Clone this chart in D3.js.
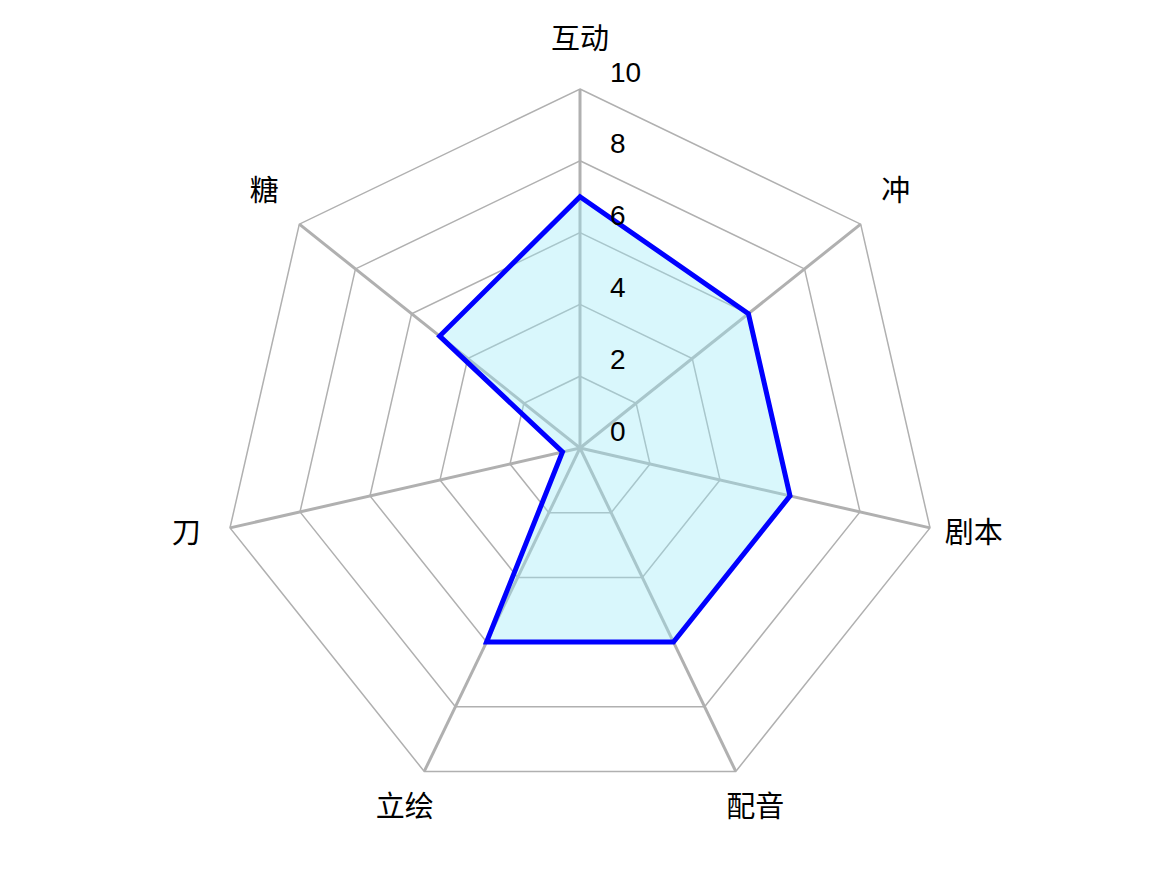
<!DOCTYPE html>
<html>
<head>
<meta charset="utf-8">
<script src="https://cdn.jsdelivr.net/npm/d3@7"></script>
<style>
  body { margin: 0; background: #fff; }
  text { font-family: "Noto Sans CJK SC", "Noto Sans", sans-serif; fill: #000; }
  .tick text { font-family: "Liberation Sans", "Noto Sans", sans-serif; }
</style>
</head>
<body>
<div id="chart"></div>
<script>
var axes = ["互动", "冲", "剧本", "配音", "立绘", "刀", "糖"];
var values = [7, 6, 6, 6, 6, 0.5, 5];
var levels = [2, 4, 6, 8, 10];
var tickLabels = [0, 2, 4, 6, 8, 10];

var width = 1160, height = 896;
var cx = 580, cy = 448;

var svg = d3.select("#chart")
    .append("svg")
    .attr("width", width)
    .attr("height", height)
  .append("g")
    .attr("transform", "translate(" + cx + "," + cy + ")");

var r = d3.scaleLinear().domain([0, 10]).range([0, 359]);
var angle = d3.scalePoint().domain(axes).range([0, 2 * Math.PI * (axes.length - 1) / axes.length]);

function px(a, v) { return r(v) * Math.sin(angle(a)); }
function py(a, v) { return -r(v) * Math.cos(angle(a)); }

var line = d3.line()
    .x(function(d) { return px(d.axis, d.value); })
    .y(function(d) { return py(d.axis, d.value); })
    .curve(d3.curveLinearClosed);

// grid rings
svg.append("g").attr("class", "grid")
  .selectAll("path")
    .data(levels)
  .enter().append("path")
    .attr("d", function(l) { return line(axes.map(function(a) { return {axis: a, value: l}; })); })
    .style("fill", "none")
    .style("stroke", "#b0b0b0")
    .style("stroke-width", 1.5);

// spokes
svg.append("g").attr("class", "spokes")
  .selectAll("line")
    .data(axes)
  .enter().append("line")
    .attr("x1", 0).attr("y1", 0)
    .attr("x2", function(a) { return px(a, 10); })
    .attr("y2", function(a) { return py(a, 10); })
    .style("stroke", "#b0b0b0")
    .style("stroke-width", 3);

// data area
var pts = axes.map(function(a, i) { return {axis: a, value: values[i]}; });
svg.append("path")
    .datum(pts)
    .attr("d", line)
    .style("fill", "rgba(155,234,247,0.38)")
    .style("stroke", "#0000ff")
    .style("stroke-width", 5)
    .style("stroke-linejoin", "miter");

// axis names
svg.append("g").attr("class", "names")
  .selectAll("text")
    .data(axes)
  .enter().append("text")
    .attr("x", function(a) { return (r(10) + 45) * Math.sin(angle(a)); })
    .attr("y", function(a) { return -(r(10) + 45) * Math.cos(angle(a)) - 8; })
    .attr("text-anchor", "middle")
    .attr("dominant-baseline", "central")
    .style("font-size", "29px")
    .text(function(d) { return d; });

// tick labels
svg.append("g").attr("class", "tick")
  .selectAll("text")
    .data(tickLabels)
  .enter().append("text")
    .attr("x", 30)
    .attr("y", function(d) { return -r(d) - 17; })
    .attr("dominant-baseline", "central")
    .style("font-size", "28px")
    .text(function(d) { return d; });
</script>
</body>
</html>
